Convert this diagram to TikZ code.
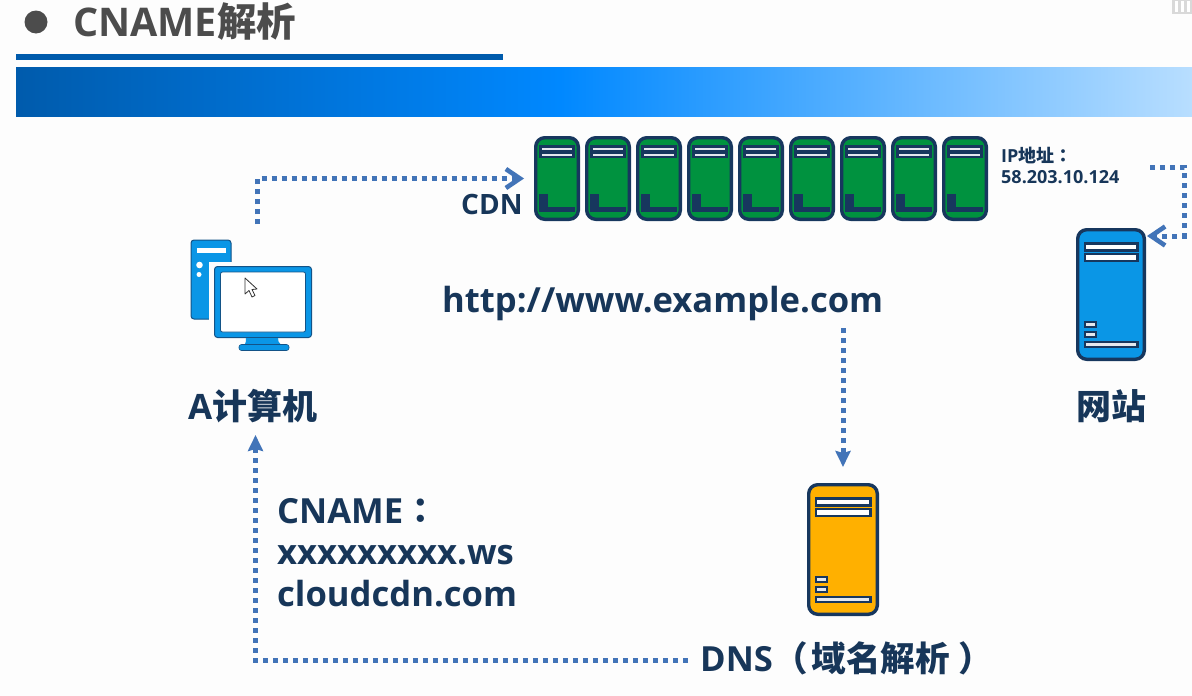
\documentclass[tikz,border=0pt]{standalone}
\usepackage{fontspec}
\setmainfont{Open Sans}
\newfontfamily\cjk{Noto Sans CJK SC}
\newfontfamily\cjktc{Noto Sans CJK TC}
\usetikzlibrary{arrows.meta,calc}
\definecolor{navy}{HTML}{173659}
\definecolor{dk}{HTML}{17375E}
\definecolor{dotc}{HTML}{4274B8}
\definecolor{bluea}{HTML}{0A96E6}
\definecolor{greena}{HTML}{00923F}
\definecolor{ambera}{HTML}{FFB000}
\definecolor{bgc}{HTML}{FDFDFD}
\definecolor{slotc}{HTML}{E4E8EE}
\definecolor{hdark}{HTML}{005BAC}
\definecolor{hmid}{HTML}{0088FF}
\definecolor{hlite}{HTML}{B8DEFF}
\tikzset{
  x=1pt,y=-1pt,
  dotted link/.style={draw=dotc,line width=5pt,dash pattern=on 5pt off 5pt},
  conn/.style={dotted link,-{Straight Barb[length=14pt,width=19pt,line width=4.6pt]}},
  conns/.style={dotted link,-{Stealth[length=16pt,width=15pt,inset=2pt]}},
  lab/.style={font=\bfseries\fontsize{34.6}{38}\selectfont,text=navy,inner sep=0pt,anchor=base west},
  srv/.style={draw=dk,line width=3.4pt,rounded corners=9pt,fill=#1,inner sep=0pt},
  slot/.style={fill=dk,draw=none},
  lite/.style={fill=slotc,draw=none},
  comp/.style={fill=bluea,draw=dk!70!bluea,line width=1pt},
}
% green rack unit
\newcommand{\greenunit}[2]{%
  \node[srv=greena,minimum width=42.6pt,minimum height=81.6pt] (#1) at (#2+23,178.5) {};
  \fill[slot] (#2+5,145) rectangle (#2+41,158);
  \fill[lite] (#2+8,147.5) rectangle (#2+38,150);
  \fill[lite] (#2+8,153.5) rectangle (#2+38,156);
  \fill[slot] (#2+5,194) rectangle (#2+14,212);
  \fill[slot] (#2+5,207) rectangle (#2+41,212);
}
% tall server: name, x-left, y-top, width, height, colour
\newcommand{\tallunit}[6]{%
  \node[srv=#6,minimum width=#4pt-3.4pt,minimum height=#5pt-3.4pt] (#1) at (#2+#4/2,#3+#5/2) {};
  \begin{scope}[shift={(#2,#3)}]
    \fill[slot] (7.5,14) rectangle (#4-7.5,23.5);
    \fill[white] (10,16.5) rectangle (#4-10,21);
    \fill[slot] (7.5,24.5) rectangle (#4-7.5,34);
    \fill[white] (10,27) rectangle (#4-10,31.5);
    \fill[slot] (7.5,93) rectangle (21,100);
    \fill[lite] (10,95) rectangle (18.5,98);
    \fill[slot] (7.5,103) rectangle (21,110);
    \fill[lite] (10,105) rectangle (18.5,108);
    \fill[slot] (7.5,113) rectangle (#4-7.5,120);
    \fill[lite] (10,115) rectangle (#4-10,118);
  \end{scope}
}
\begin{document}
\begin{tikzpicture}
\useasboundingbox (0,0) rectangle (1192,696);
\fill[bgc] (0,0) rectangle (1192,696);
% header
\fill[black!70] (36,22) circle (11.5);
\node[inner sep=0pt,anchor=base west,text=black!70,font=\bfseries\fontsize{39.5}{44}\selectfont] (title) at (73,36) {CNAME{\cjk 解析}};
\fill[hdark] (16,54) rectangle (503,60);
\shade[left color=hdark,right color=hmid,draw=none] (16,67) rectangle (560,116);
\shade[left color=hmid,right color=hlite,draw=none] (559.5,67) rectangle (1192,116);
% corner mark
\fill[black!15] (1172,0) rectangle (1192,14);
\foreach \q in {1175,1181,1187}{\fill[white] (\q,1) rectangle (\q+3,12);}
% CDN rack
\foreach \k/\q in {1/534,2/585,3/636,4/687,5/738,6/789,7/840,8/891,9/942}{\greenunit{cdn\k}{\q}}
\node[lab,font=\bfseries\fontsize{28}{32}\selectfont] (cdnlab) at (461,214) {CDN};
\node[inner sep=0pt,anchor=base west,align=left,text=navy,font=\bfseries\fontsize{18}{21}\selectfont] (ip) at (1001,183) {IP{\cjk 地址}{\cjktc ：}\\58.203.10.124};
% computer
\node[inner sep=0pt,minimum width=121pt,minimum height=110pt] (pc) at (251,295) {};
\draw[comp,rounded corners=3pt] (191,240) rectangle (231,319);
\fill[white] (197,248) rectangle (226,253);
\fill[white] (199.5,265) circle (3.3);
\fill[white] (199,274.5) circle (2.5);
\fill[bgc] (209,262) rectangle (235,322);
\draw[comp,rounded corners=3pt] (214.5,266.5) rectangle (311.5,337.5);
\fill[white,draw=dk!70!bluea,line width=.8pt,rounded corners=2pt] (220.5,272) rectangle (305.5,332);
\fill[bluea] (246,338) -- (278,338) .. controls (278,344) and (281,345) .. (286,345) -- (242,345) .. controls (245,345) and (246,344) .. (246,338) -- cycle;
\fill[bluea,draw=dk!70!bluea,line width=.6pt,rounded corners=2.5pt] (239,344.5) rectangle (289,350.5);
\draw[black!80,fill=white,line width=.8pt,line join=round] (245,278) -- (245,294) -- (249,290.5) -- (252,297) -- (255,295.5) -- (252,289.5) -- (257,289) -- cycle;
\node[lab,font=\bfseries\fontsize{35}{38}\selectfont] (alab) at (188,419) {A{\cjk 计算机}};
% web server
\tallunit{web}{1076}{228}{70}{133}{bluea}
\node[lab,font=\bfseries\fontsize{35}{38}\selectfont] (weblab) at (1076,419) {{\cjk 网站}};
% dns server
\tallunit{dns}{807}{483}{72}{133}{ambera}
\node[lab] (dnslab) at (700,671) {DNS{\cjk （\hspace{4pt}域名解析\hspace{9pt}）}};
% texts
\node[lab] (url) at (442,312) {http://www.example.com};
\node[lab,align=left,font=\bfseries\fontsize{34.6}{41.5}\selectfont] (cname) at (277,606) {CNAME{\cjktc ：}\\xxxxxxxxx.ws\\cloudcdn.com};
% connectors
\coordinate (p1) at (257,224);
\draw[conn] (p1) |- ([xshift=-10pt]cdn1.west);
\coordinate (p2) at (1150,167);
\coordinate (p3) at (1184,167);
\coordinate (p4) at (1184,236);
\draw[conn] (p2) -- (p3) -- (p4) -- (1147,236);
\coordinate (p5) at (843,328);
\draw[conns] (p5) -- (843,467);
\coordinate (p6) at (688,660);
\coordinate (p7) at (255.5,660);
\draw[conns] (p6) -- (p7) -- (255.5,435);
\end{tikzpicture}
\end{document}
